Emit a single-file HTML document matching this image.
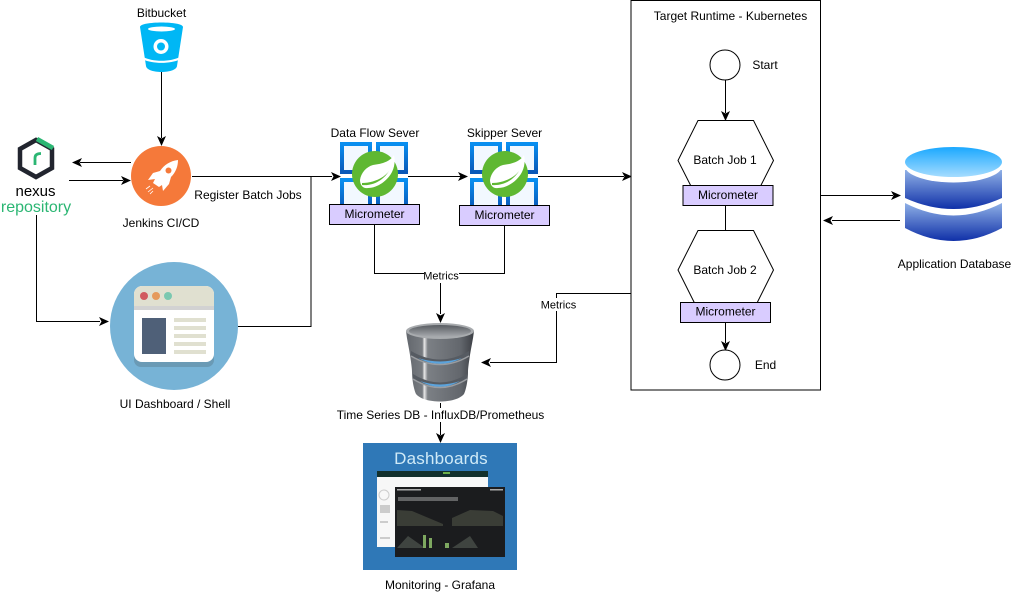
<!DOCTYPE html>
<html><head><meta charset="utf-8"><style>
html,body{margin:0;padding:0;background:#fff;width:1011px;height:593px;overflow:hidden}
svg{display:block}
text{font-family:"Liberation Sans",sans-serif;font-size:12px;fill:#000;text-anchor:middle;dominant-baseline:middle;transform:translateY(5px)}
.l{fill:none;stroke:#000;stroke-width:1}
.a{fill:#000}
.m{fill:#d9ccff;stroke:#000;stroke-width:1}
</style></head><body>
<svg width="1011" height="593" viewBox="0 0 1011 593" xmlns="http://www.w3.org/2000/svg">
<defs>
<linearGradient id="bl" x1="0" y1="0" x2="0" y2="1"><stop offset="0" stop-color="#0a8ff0"/><stop offset="1" stop-color="#0a58b8"/></linearGradient>
<linearGradient id="dt" x1="0" y1="0" x2="0" y2="1"><stop offset="0" stop-color="#1aa8ff"/><stop offset="1" stop-color="#a5dcff"/></linearGradient>
<linearGradient id="db" x1="0" y1="0" x2="0" y2="1"><stop offset="0" stop-color="#8fb0e6"/><stop offset="1" stop-color="#0f30a8"/></linearGradient>
<linearGradient id="gr" x1="0" y1="0" x2="1" y2="0"><stop offset="0" stop-color="#63676d"/><stop offset=".24" stop-color="#777b80"/><stop offset=".27" stop-color="#e8e8e8"/><stop offset=".32" stop-color="#7c8085"/><stop offset=".8" stop-color="#63676d"/><stop offset="1" stop-color="#3c3f44"/></linearGradient>
<linearGradient id="gt" x1="0" y1="0" x2="0" y2="1"><stop offset="0" stop-color="#585c61"/><stop offset="1" stop-color="#a9acb0"/></linearGradient>
<g id="sp">
<g fill="#f2f8ff" stroke="url(#bl)" stroke-width="4">
<rect x="2" y="2" width="28" height="28"/>
<rect x="38" y="2" width="28" height="28"/>
<rect x="2" y="38" width="28" height="28"/>
<rect x="38" y="38" width="28" height="28"/>
</g>
<circle cx="35" cy="32" r="23" fill="#5fb832"/>
<path d="M54 13C50 20 41 22 33 23C26 25 21 31 20 38C20 43 23 47 28 46C38 46 48 38 52 30C55 24 55 18 54 13Z" fill="#fff"/>
<path d="M22 43C32 44 43 39 49 29C44 36 33 41 22 41Z" fill="#5fb832"/>
</g>
</defs>

<!-- Bitbucket -->
<path d="M140 27C140 21 183 21 183 27L177 66C176 74 147 74 146 66Z" fill="#00b7f5"/>
<ellipse cx="161.500" cy="29" rx="13.500" ry="2.500" fill="#fff"/>
<circle cx="161" cy="46.500" r="7.500" fill="#fff"/><circle cx="161" cy="46.500" r="4" fill="#00b7f5"/>
<path d="M143 57C153 62 170 62 180 57L180 59.500C170 64 153 64 143 59.500Z" fill="#fff"/>
<text x="161.500" y="9">Bitbucket</text>
<path class="l" d="M161.500 72V138"/><path class="a" d="M161.500 146L157 136L161.500 138.500L166 136Z"/>

<!-- Jenkins -->
<circle cx="161" cy="176" r="30" fill="#f5793a"/>
<path d="M178 160C170 161 164 165 160 171L153 173L148 180L155 179L153 183L159 187L162 185L163 191L169 184L171 177C176 172 178 166 178 160Z" fill="#fff"/>
<circle cx="168.500" cy="170.500" r="3" fill="#f5793a"/>
<path d="M146 189L150 186M148 192L153 188M150 194L153 191" stroke="#fff" stroke-width=".8" fill="none"/>
<text x="161" y="219">Jenkins CI/CD</text>

<!-- Nexus -->
<path d="M36 140L52 149V168L36 177L20 168V149Z" fill="none" stroke="#22252f" stroke-width="4.500"/>
<path d="M37 139L53 148" fill="none" stroke="#2bb673" stroke-width="4.500"/>
<path d="M35 165V158C35 155 37 153.500 41 153.500" fill="none" stroke="#2bb673" stroke-width="2.800"/>
<text x="35.500" y="187" style="font-size:15px" fill="#1c1c1c">nexus</text>
<text x="36" y="203" style="font-size:16px;fill:#2bb673">repository</text>

<path class="l" d="M131 162.500H80"/><path class="a" d="M72 162.500L82 158L79.500 162.500L82 167Z"/>
<path class="l" d="M69 180.500H123"/><path class="a" d="M131 180.500L121 185L123.500 180.500L121 176Z"/>
<path class="l" d="M36.500 215V321.500H100"/><path class="a" d="M109 321.500L99 326L101.500 321.500L99 317Z"/>

<!-- UI dashboard -->
<circle cx="174" cy="326" r="64" fill="#77b3d6"/>
<path d="M134 298a8 8 0 0 1 8-8h64a8 8 0 0 1 8 8v62a7 7 0 0 1-7 7h-66a7 7 0 0 1-7-7Z" fill="#6a9ab5"/>
<path d="M134 294a8 8 0 0 1 8-8h64a8 8 0 0 1 8 8v60a8 8 0 0 1-8 8h-64a8 8 0 0 1-8-8Z" fill="#fff"/>
<path d="M134 310V294a8 8 0 0 1 8-8h64a8 8 0 0 1 8 8v16Z" fill="#e0e0d0"/>
<rect x="134" y="306" width="80" height="4" fill="#d2d2d2"/>
<circle cx="144" cy="296" r="4" fill="#d15b5f"/><circle cx="156" cy="296" r="4" fill="#e59a5c"/><circle cx="168" cy="296" r="4" fill="#7ac8b0"/>
<rect x="142" y="318" width="24" height="36" fill="#4f6078"/>
<g fill="#e0e0d0"><rect x="174" y="318" width="32" height="4"/><rect x="174" y="326" width="32" height="4"/><rect x="174" y="334" width="32" height="4"/><rect x="174" y="342" width="32" height="4"/><rect x="174" y="350" width="32" height="4"/></g>
<text x="175" y="400">UI Dashboard / Shell</text>

<!-- Register flow -->
<path class="l" d="M192 176.500H332"/><path class="l" d="M238 326.500H311V176.500"/>
<path class="a" d="M341 176.500L331 181L333.500 176.500L331 172Z"/>
<text x="248" y="191">Register Batch Jobs</text>

<!-- Spring -->
<use href="#sp" x="340" y="142"/>
<use href="#sp" x="470" y="142"/>
<text x="375" y="129">Data Flow Sever</text>
<text x="504.500" y="129">Skipper Sever</text>
<path class="l" d="M408 176.500H461"/><path class="a" d="M468 176.500L458 181L460.500 176.500L458 172Z"/>
<path class="l" d="M538 176.500H624"/><path class="a" d="M632 176.500L622 181L624.500 176.500L622 172Z"/>

<rect class="m" x="329.500" y="204.500" width="90" height="20"/><text x="374.500" y="210">Micrometer</text>
<rect class="m" x="459.500" y="205.500" width="90" height="20"/><text x="504.500" y="211">Micrometer</text>

<path class="l" d="M374.500 224.500V273.500H424"/><path d="M459 273.500H504.500V225.500" fill="none" stroke="#000" stroke-width="1"/>
<text x="441" y="271.500" style="font-size:11px">Metrics</text>
<path class="l" d="M440.500 283V314"/><path class="a" d="M440.500 323L436 313L440.500 315.500L445 313Z"/>

<!-- Time series DB -->
<path d="M406 331C407 340 409 348 410 355C411 362 412 368 412 372C412 380 414 390 416 394C424 404 456 404 464 394C466 390 468 380 468 372C468 368 469 362 470 355C471 348 473 340 474 331Z" fill="url(#gr)"/>
<ellipse cx="440" cy="331" rx="34" ry="8" fill="#a8abae"/>
<ellipse cx="440" cy="331" rx="31" ry="6" fill="url(#gt)"/>
<path d="M411 351Q440 368 469 351V356Q440 373 411 356Z" fill="#565b62"/>
<path d="M418 358Q440 365 462 358Q440 370 418 358Z" fill="#5ba3dc"/>
<path d="M411 356Q440 373 469 356" fill="none" stroke="#9a9da1" stroke-width="1.500"/>
<path d="M413 374Q440 391 467 374V379Q440 396 413 379Z" fill="#565b62"/>
<path d="M420 381Q440 388 460 381Q440 393 420 381Z" fill="#5ba3dc"/>
<path d="M413 379Q440 396 467 379" fill="none" stroke="#9a9da1" stroke-width="1.500"/>
<text x="440.500" y="411">Time Series DB - InfluxDB/Prometheus</text>
<path class="l" d="M440.500 403V408M440.500 422V435"/><path class="a" d="M440.500 443L436 433L440.500 435.500L445 433Z"/>

<!-- Dashboards -->
<rect x="363" y="443" width="154" height="127" fill="#2f78b7"/>
<text x="441" y="454.500" style="font-size:17px;fill:#cfeaf7;letter-spacing:.2px">Dashboards</text>
<rect x="377" y="471" width="111" height="76" fill="#f7f7f7"/>
<rect x="377" y="471" width="111" height="6" fill="#12302c"/>
<rect x="443" y="472" width="7" height="2" fill="#6cb04a"/>
<circle cx="384" cy="495" r="5" fill="none" stroke="#ccc"/>
<g fill="#ccc"><rect x="380" y="505" width="10" height="8"/><rect x="380" y="521" width="8" height="2"/><rect x="380" y="537" width="10" height="2"/></g>
<rect x="395" y="487" width="110" height="70" fill="#1b1c1e"/>
<g fill="#aaa"><rect x="397" y="489" width="24" height="1.500"/><rect x="490" y="489" width="13" height="1.500"/><rect x="398" y="497" width="60" height="4" opacity=".5"/></g>
<path d="M397 510L412 511L443 524V526H397ZM452 518L470 510L493 511L503 516V526H452Z" fill="#3a3d36"/>
<path d="M397 548L408 536L425 548ZM452 548L470 536L478 548Z" fill="#3f4440"/>
<rect x="423" y="535" width="3" height="13" fill="#7ea860"/><rect x="429" y="538" width="3" height="10" fill="#7ea860"/><rect x="445" y="543" width="4" height="5" fill="#7ea860"/>
<text x="440" y="581">Monitoring - Grafana</text>

<!-- Runtime -->
<rect x="631" y="0.500" width="189.500" height="389.500" fill="#fff" stroke="#000"/>
<text x="730.500" y="12">Target Runtime - Kubernetes</text>
<circle cx="725" cy="65" r="15" fill="#fff" stroke="#000"/>
<text x="765" y="61">Start</text>
<path class="l" d="M725.500 80V113"/><path class="a" d="M725.500 121L721 111L725.500 113.500L730 111Z"/>
<path d="M698 120.500H753.500L773.500 160.500L753.500 200H698L678 160.500Z" fill="#fff" stroke="#000"/>
<text x="725" y="156">Batch Job 1</text>
<rect class="m" x="683" y="185.500" width="90" height="20"/><text x="728" y="191">Micrometer</text>
<path class="l" d="M725.500 205.500V230"/>
<path d="M698 230.500H753.500L773.500 270L753.500 310H698L678 270Z" fill="#fff" stroke="#000"/>
<text x="725" y="266">Batch Job 2</text>
<rect class="m" x="680.500" y="302.500" width="90" height="20"/><text x="725.500" y="307.500">Micrometer</text>
<path class="l" d="M725.500 322.500V343"/><path class="a" d="M725.500 351L721 341L725.500 343.500L730 341Z"/>
<circle cx="725" cy="365" r="15" fill="#fff" stroke="#000"/>
<text x="765.500" y="361">End</text>

<!-- Metrics 2 -->
<path class="l" d="M631 293.500H556.500V362.500H490"/><path class="a" d="M481 362.500L491 358L488.500 362.500L491 367Z"/>
<rect x="540" y="298" width="38" height="13" fill="#fff"/>
<text x="558.500" y="300.500" style="font-size:11px">Metrics</text>

<!-- App DB -->
<path class="l" d="M820.500 195.500H893"/><path class="a" d="M901 195.500L891 200L893.500 195.500L891 191Z"/>
<path class="l" d="M900 220.500H832"/><path class="a" d="M823 220.500L833 216L830.500 220.500L833 225Z"/>
<path d="M905 203Q953.500 228 1002 203V228Q953.500 254 905 228Z" fill="url(#db)"/>
<path d="M905 170V198Q953.500 220 1002 198V170Z" fill="url(#db)"/>
<ellipse cx="953.500" cy="166" rx="48.500" ry="16.500" fill="#fff"/>
<ellipse cx="953.500" cy="162" rx="48.500" ry="15" fill="url(#dt)"/>
<text x="954.500" y="260">Application Database</text>
</svg>
</body></html>
